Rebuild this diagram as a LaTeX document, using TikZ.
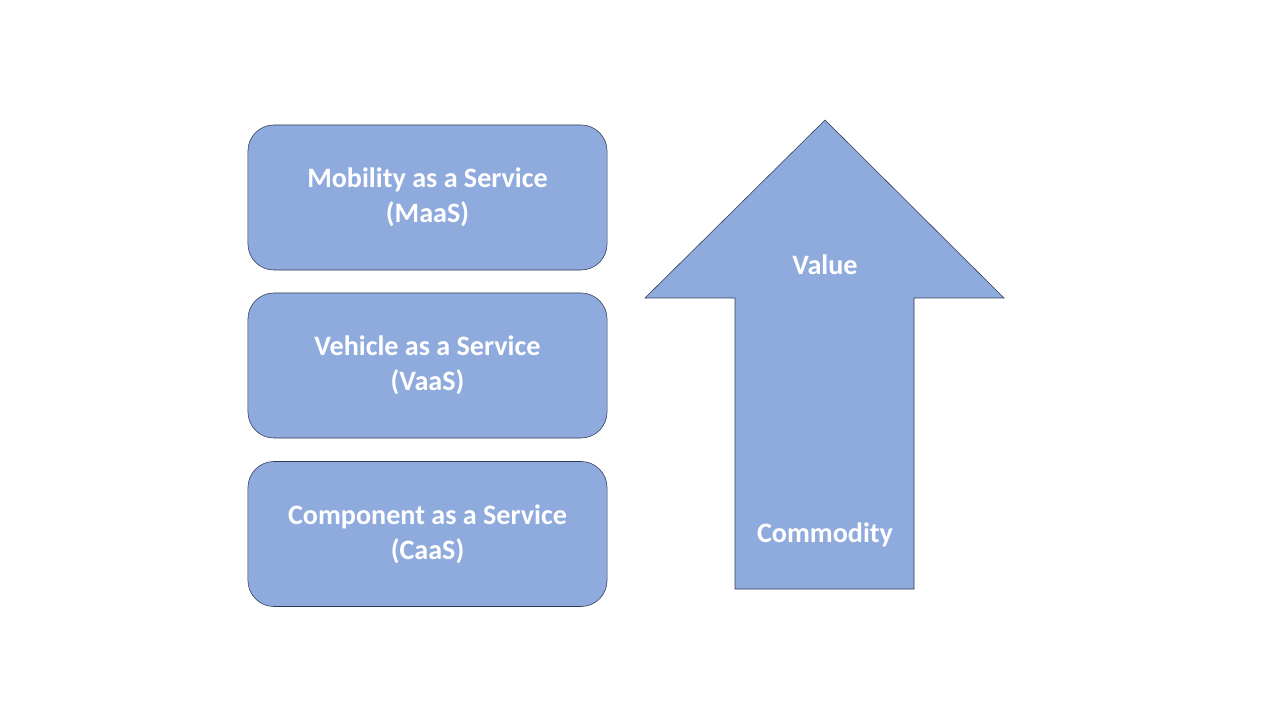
\documentclass[tikz,border=0pt]{standalone}
\usepackage{fontspec}
\setmainfont{Carlito}
\usetikzlibrary{positioning}
\definecolor{boxfill}{HTML}{8FAADC}
\definecolor{boxline}{HTML}{2F3B55}
\tikzset{
  service/.style={draw=boxline,fill=boxfill,rounded corners=0.65cm,minimum width=8.975cm,
    minimum height=3.625cm,align=center,text=white,font=\fontsize{20}{25}\selectfont\bfseries},
  arrowtext/.style={text=white,font=\fontsize{20}{25}\selectfont\bfseries}
}
\begin{document}
\begin{tikzpicture}[x=0.025cm,y=-0.025cm]
\useasboundingbox (0,0) rectangle (1280,720);

\node[service] (maas) at (427.5,197.5) {Mobility as a Service\\(MaaS)};
\node[service] (vaas) at (427.5,365.5) {Vehicle as a Service\\(VaaS)};
\node[service] (caas) at (427.5,534) {Component as a Service\\(CaaS)};

% arrow
\draw[draw=boxline,fill=boxfill] (825,120) -- (1004,298) -- (914,298) -- (914,589)
  -- (735,589) -- (735,298) -- (645,298) -- cycle;
\node[arrowtext] (value) at (825,265) {Value};
\node[arrowtext] (commodity) at (825,535) {Commodity};
\end{tikzpicture}
\end{document}
